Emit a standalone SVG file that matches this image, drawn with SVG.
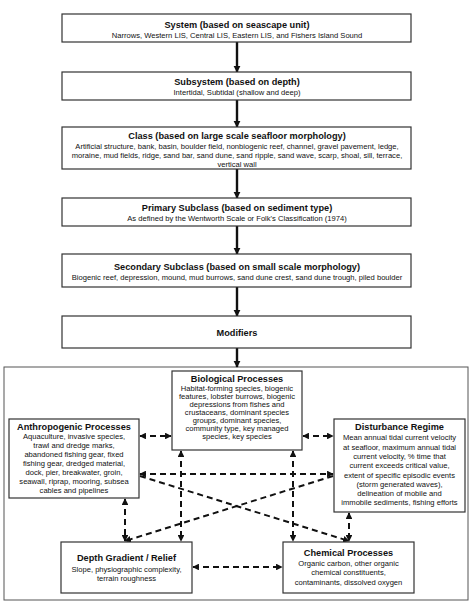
<svg xmlns="http://www.w3.org/2000/svg" width="474" height="614" viewBox="0 0 474 614">
<style>
.box{fill:#fff;stroke:#333;stroke-width:1.2}
.outer{fill:none;stroke:#555;stroke-width:1}
.t{font-family:"Liberation Sans",Arial,sans-serif;font-weight:bold;font-size:9.2px;fill:#111;text-anchor:middle}
.s{font-family:"Liberation Sans",Arial,sans-serif;font-size:7.6px;fill:#111;text-anchor:middle}
.main{stroke:#111;stroke-width:2.4;fill:none;marker-end:url(#ah)}
.dash{stroke:#111;stroke-width:2;fill:none;stroke-dasharray:6,4;marker-start:url(#ds);marker-end:url(#de)}
</style>
<defs>
<marker id="ah" viewBox="0 0 10 10" refX="9" refY="5" markerWidth="3" markerHeight="3" orient="auto" markerUnits="strokeWidth"><path d="M0,0 L10,5 L0,10 z" fill="#111"/></marker>
<marker id="de" viewBox="0 0 10 10" refX="9" refY="5" markerWidth="3.3" markerHeight="3.3" orient="auto" markerUnits="strokeWidth"><path d="M0,0 L10,5 L0,10 z" fill="#111"/></marker>
<marker id="ds" viewBox="0 0 10 10" refX="9" refY="5" markerWidth="3.3" markerHeight="3.3" orient="auto-start-reverse" markerUnits="strokeWidth"><path d="M0,0 L10,5 L0,10 z" fill="#111"/></marker>
</defs>
<rect width="474" height="614" fill="#fff"/>
<rect class="outer" x="4" y="367" width="464" height="233"/>
<g id="connectors">
<line class="main" x1="237" y1="42" x2="237" y2="72"/>
<line class="main" x1="237" y1="100" x2="237" y2="127"/>
<line class="main" x1="237" y1="169" x2="237" y2="198"/>
<line class="main" x1="237" y1="226" x2="237" y2="254"/>
<line class="main" x1="237" y1="287" x2="237" y2="316"/>
<line class="main" x1="237" y1="348" x2="237" y2="367"/>
<line class="dash" x1="140" y1="436" x2="171" y2="436"/>
<line class="dash" x1="303" y1="436" x2="333" y2="436"/>
<line class="dash" x1="140" y1="474" x2="333" y2="474"/>
<line class="dash" x1="181" y1="451" x2="181" y2="541"/>
<line class="dash" x1="293" y1="451" x2="293" y2="541"/>
<line class="dash" x1="125" y1="499" x2="125" y2="541"/>
<line class="dash" x1="349" y1="513" x2="349" y2="541"/>
<line class="dash" x1="193" y1="567" x2="282" y2="567"/>
<path d="M140,476 L349,541" fill="none" stroke="#111" stroke-width="2" stroke-dasharray="6,4" marker-end="url(#de)"/>
<path d="M333,476 L125,541" fill="none" stroke="#111" stroke-width="2" stroke-dasharray="6,4" marker-end="url(#de)"/>
</g>
<g id="system">
<rect class="box" x="62" y="14" width="349" height="28"/>
<text class="t" x="237" y="27.5">System (based on seascape unit)</text>
<text class="s" x="237" y="37.5">Narrows, Western LIS, Central LIS, Eastern LIS, and Fishers Island Sound</text>
</g>
<g id="subsystem">
<rect class="box" x="62" y="72" width="349" height="28"/>
<text class="t" x="237" y="84.5">Subsystem (based on depth)</text>
<text class="s" x="237" y="94.5">Intertidal, Subtidal (shallow and deep)</text>
</g>
<g id="class">
<rect class="box" x="62" y="127" width="349" height="42"/>
<text class="t" x="237" y="138.5">Class (based on large scale seafloor morphology)</text>
<text class="s" x="237" y="148.8">Artificial structure, bank, basin, boulder field, nonbiogenic reef, channel, gravel pavement, ledge,</text>
<text class="s" x="237" y="157.8">moraine, mud fields, ridge, sand bar, sand dune, sand ripple, sand wave, scarp, shoal, sill, terrace,</text>
<text class="s" x="237" y="166.8">vertical wall</text>
</g>
<g id="primary">
<rect class="box" x="62" y="198" width="349" height="28"/>
<text class="t" x="237" y="210.5">Primary Subclass (based on sediment type)</text>
<text class="s" x="237" y="220.8">As defined by the Wentworth Scale or Folk's Classification (1974)</text>
</g>
<g id="secondary">
<rect class="box" x="62" y="254" width="349" height="33"/>
<text class="t" x="237" y="269.5">Secondary Subclass (based on small scale morphology)</text>
<text class="s" x="237" y="279.8">Biogenic reef, depression, mound, mud burrows, sand dune crest, sand dune trough, piled boulder</text>
</g>
<g id="modifiers">
<rect class="box" x="62" y="316" width="349" height="32"/>
<text class="t" x="237" y="335.5">Modifiers</text>
</g>
<g id="biological">
<rect class="box" x="172" y="371" width="130" height="79"/>
<text class="t" x="237" y="381.5">Biological Processes</text>
<text class="s" x="237" y="390.8">Habitat-forming species, biogenic</text>
<text class="s" x="237" y="398.8">features, lobster burrows, biogenic</text>
<text class="s" x="237" y="406.8">depressions from fishes and</text>
<text class="s" x="237" y="414.8">crustaceans, dominant species</text>
<text class="s" x="237" y="422.8">groups, dominant species,</text>
<text class="s" x="237" y="430.8">community type, key  managed</text>
<text class="s" x="237" y="438.8">species, key species</text>
</g>
<g id="anthropogenic">
<rect class="box" x="9" y="419" width="130" height="79"/>
<text class="t" x="74" y="429.8">Anthropogenic  Processes</text>
<text class="s" x="74" y="438.8">Aquaculture, invasive species,</text>
<text class="s" x="74" y="447.8">trawl and dredge marks,</text>
<text class="s" x="74" y="456.8">abandoned fishing gear, fixed</text>
<text class="s" x="74" y="465.8">fishing gear, dredged material,</text>
<text class="s" x="74" y="474.8">dock, pier, breakwater, groin,</text>
<text class="s" x="74" y="483.8">seawall, riprap, mooring, subsea</text>
<text class="s" x="74" y="492.8">cables and pipelines</text>
</g>
<g id="disturbance">
<rect class="box" x="334" y="419" width="131" height="93"/>
<text class="t" x="399.5" y="430.3">Disturbance Regime</text>
<text class="s" x="399.5" y="440.3">Mean annual tidal current velocity</text>
<text class="s" x="399.5" y="449.6">at seafloor, maximum annual tidal</text>
<text class="s" x="399.5" y="458.9">current velocity, % time that</text>
<text class="s" x="399.5" y="468.2">current exceeds critical value,</text>
<text class="s" x="399.5" y="477.5">extent of specific episodic events</text>
<text class="s" x="399.5" y="486.8">(storm generated waves),</text>
<text class="s" x="399.5" y="496.1">delineation of mobile and</text>
<text class="s" x="399.5" y="505.4">immobile sediments, fishing efforts</text>
</g>
<g id="depth">
<rect class="box" x="61" y="542" width="131" height="51"/>
<text class="t" x="126.5" y="561.3">Depth Gradient / Relief</text>
<text class="s" x="126.5" y="571.8">Slope, physiographic complexity,</text>
<text class="s" x="126.5" y="580.8">terrain roughness</text>
</g>
<g id="chemical">
<rect class="box" x="283" y="542" width="131" height="51"/>
<text class="t" x="348.5" y="556.3">Chemical Processes</text>
<text class="s" x="348.5" y="565.8">Organic carbon, other organic</text>
<text class="s" x="348.5" y="575.3">chemical constituents,</text>
<text class="s" x="348.5" y="584.8">contaminants, dissolved oxygen</text>
</g>
</svg>
